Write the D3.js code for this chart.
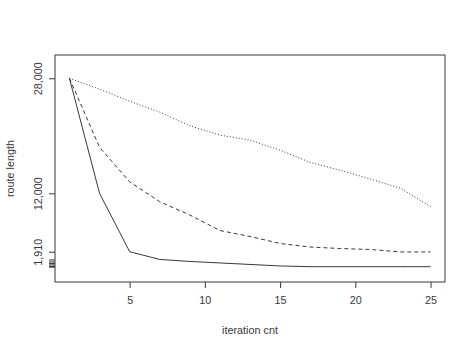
<!DOCTYPE html>
<html>
<head>
<meta charset="utf-8">
<script src="https://cdn.jsdelivr.net/npm/d3@7"></script>
<style>
  body { margin: 0; background: #fff; }
  svg { display: block; font-family: "Liberation Sans", Arial, sans-serif; }
</style>
</head>
<body>
<div id="chart"></div>
<script>
// iteration counts (x)
const iterations = [1, 3, 5, 7, 9, 11, 13, 15, 17, 19, 21, 23, 25];

// route length per iteration, one array per run
const solidRun  = [28000, 12000, 1910, 1600, 1520, 1460, 1400, 1340, 1310, 1310, 1310, 1310, 1310];
const dashedRun = [28000, 18400, 13600, 10550, 8250, 5570, 4540, 3330, 2720, 2460, 2290, 1900, 1900];
const dottedRun = [28000, 26500, 24800, 23300, 21400, 20100, 19400, 18000, 16300, 15200, 14000, 12700, 9700];

// y axis: a tick at each distinct value of the solid run, only a few labelled
const yTickValues = [28000, 12000, 1910, 1600, 1520, 1460, 1400, 1340, 1310];
const yTickLabels = ["28,000", "12,000", "1,910"];
const xTickValues = [5, 10, 15, 20, 25];

const W = 474, H = 351;
const margin = { top: 55, right: 29, bottom: 69, left: 55 };
const width = W - margin.left - margin.right;
const height = H - margin.top - margin.bottom;
const ink = "#383838";

const svg = d3.select("#chart").append("svg")
    .attr("width", W)
    .attr("height", H);

const g = svg.append("g")
    .attr("transform", `translate(${margin.left},${margin.top})`);

// x scale with R-style 4% padding
const xScale = d3.scaleLinear()
    .domain([1 - 24 * 0.04, 25 + 24 * 0.04])
    .range([0, width]);

// y axis in the picture is not linear: piecewise through the labelled values
const yScale = d3.scaleLinear()
    .domain([1310, 1910, 12000, 28000])
    .range([height * 0.9326, height * 0.8665, height * 0.6093, height * 0.1026]);

const line = d3.line()
    .x((d, i) => xScale(iterations[i]))
    .y(d => yScale(d));

const runs = [
    { values: solidRun, dash: null },
    { values: dashedRun, dash: "4,3" },
    { values: dottedRun, dash: "1,2" }
];

g.selectAll(".run")
    .data(runs)
    .join("path")
    .attr("class", "run")
    .attr("d", d => line(d.values))
    .attr("fill", "none")
    .attr("stroke", ink)
    .attr("stroke-width", 1)
    .attr("stroke-dasharray", d => d.dash);

// frame
g.append("rect")
    .attr("x", 0)
    .attr("y", 0)
    .attr("width", width)
    .attr("height", height)
    .attr("fill", "none")
    .attr("stroke", ink)
    .attr("stroke-width", 1);

// x axis
const xAxis = g.append("g")
    .attr("transform", `translate(0,${height})`)
    .call(d3.axisBottom(xScale).tickValues(xTickValues).tickSize(6).tickPadding(8));
xAxis.select(".domain").remove();
xAxis.selectAll("line").attr("stroke", ink);
xAxis.selectAll("text")
    .attr("fill", ink)
    .style("font-family", "Liberation Sans, Arial, sans-serif")
    .style("font-size", "10.8px");

// y axis
const yAxis = g.append("g")
    .call(d3.axisLeft(yScale)
        .tickValues(yTickValues)
        .tickSize(6)
        .tickFormat((d, i) => yTickLabels[i] || ""));
yAxis.select(".domain").remove();
yAxis.selectAll("line").attr("stroke", ink);
yAxis.selectAll("text")
    .attr("fill", ink)
    .attr("transform", "rotate(-90)")
    .attr("x", 0)
    .attr("y", -13)
    .attr("dy", "0")
    .attr("text-anchor", "middle")
    .style("font-family", "Liberation Sans, Arial, sans-serif")
    .style("font-size", "10.8px");

// axis titles
g.append("text")
    .attr("x", width / 2)
    .attr("y", height + 52)
    .attr("text-anchor", "middle")
    .attr("fill", ink)
    .style("font-size", "10.8px")
    .text("iteration cnt");

g.append("text")
    .attr("transform", "rotate(-90)")
    .attr("x", -height / 2)
    .attr("y", -41)
    .attr("text-anchor", "middle")
    .attr("fill", ink)
    .style("font-size", "10.8px")
    .text("route length");
</script>
</body>
</html>
